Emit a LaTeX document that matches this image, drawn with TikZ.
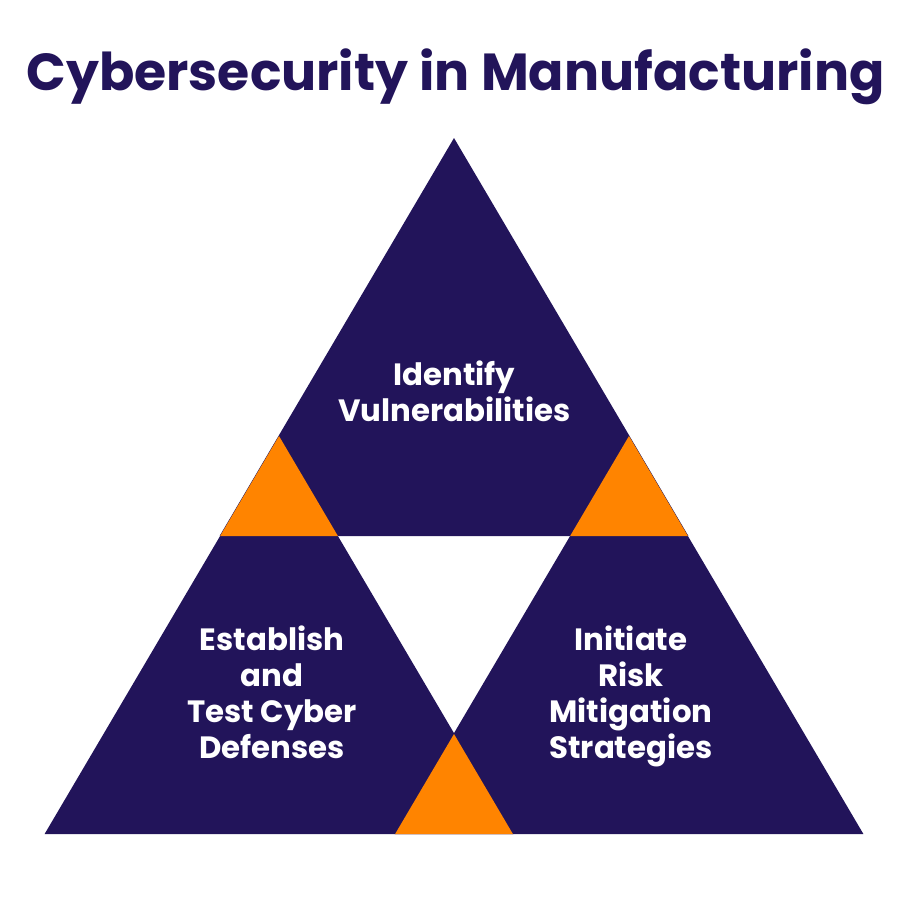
\documentclass[tikz,border=0pt]{standalone}
\usepackage{fontspec}
\setmainfont{Poppins}
\usepackage{tikz}
\definecolor{cyberblue}{HTML}{22145A}
\definecolor{cyberorange}{HTML}{FF8400}

\begin{document}
\begin{tikzpicture}[x=1pt,y=-1pt,
    stage/.style={text=white, font=\bfseries\fontsize{30.8}{35.8}\selectfont, align=center, anchor=base, inner sep=0pt}]
    \useasboundingbox (0,0) rectangle (908,908);
    \node[text=cyberblue, font=\bfseries\fontsize{52.1}{60}\selectfont, anchor=base, inner sep=0pt] (title) at (455.5,90.7) {Cybersecurity in Manufacturing};
    \foreach \x/\y in {454/138, 279/436, 629/436}{
        \fill[cyberblue] (\x,\y) -- (\x-234.4,\y+398) -- (\x+234.4,\y+398) -- cycle;
    }
    \foreach \x/\y in {279/436, 629/436, 454/734}{
        \fill[cyberorange] (\x,\y) -- (\x-58.9,\y+100) -- (\x+58.9,\y+100) -- cycle;
    }
    \node[stage] (identify) at (454.5,421.7) {Identify\\Vulnerabilities};
    \node[stage] (establish) at (272,758) {Establish\\and\\Test Cyber\\Defenses};
    \node[stage] (initiate) at (631,758) {Initiate\\Risk\\Mitigation\\Strategies};
\end{tikzpicture}
\end{document}
